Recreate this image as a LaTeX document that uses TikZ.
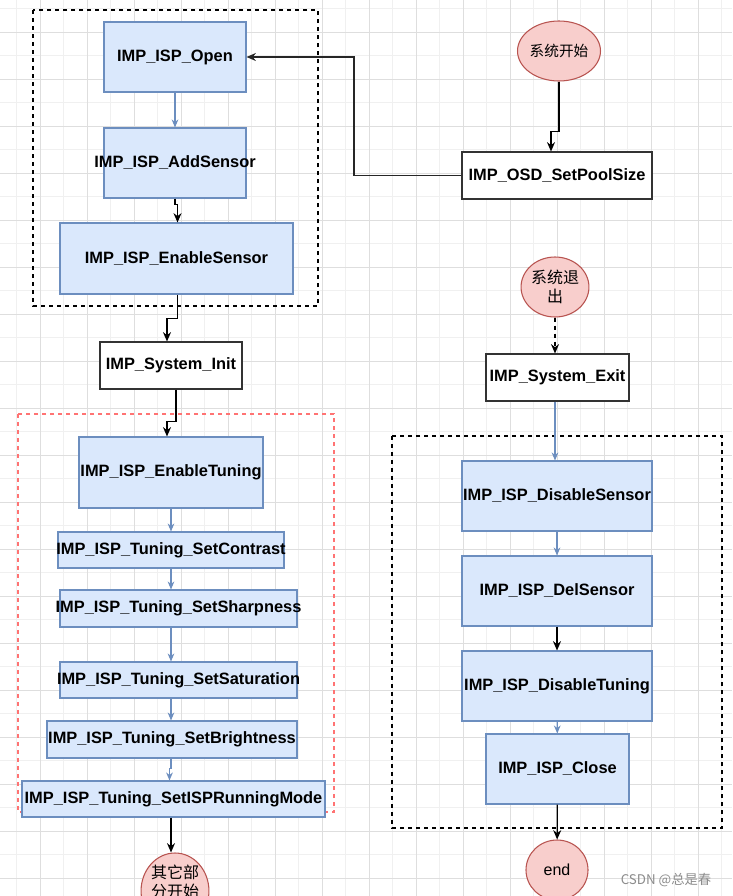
\documentclass[tikz,border=0pt]{standalone}
\usepackage{fontspec}
\setmainfont{Liberation Sans}
\newfontfamily\cjk{Noto Sans CJK SC}
\usetikzlibrary{arrows.meta,shapes.geometric}
\definecolor{bfill}{HTML}{DAE8FC}
\definecolor{bdraw}{HTML}{6C8EBF}
\definecolor{rfill}{HTML}{F8CECC}
\definecolor{rdraw}{HTML}{B85450}
\begin{document}
\begin{tikzpicture}[x=0.75pt,y=-0.75pt,
  blue/.style={draw=bdraw,fill=bfill,line width=0.8pt,font=\bfseries\fontsize{12.3}{14}\selectfont},
  plain/.style={draw=black!80,fill=white,line width=0.8pt,font=\bfseries\fontsize{12.3}{14}\selectfont},
  term/.style={ellipse,draw=rdraw,fill=rfill,line width=0.8pt,font=\cjk\fontsize{12}{14}\selectfont,align=center,inner sep=0pt},
  ka/.style={-{Stealth[length=7pt,width=6pt]},line width=0.9pt,black},
  ba/.style={-{Stealth[length=6pt,width=5pt]},line width=0.8pt,bdraw}]
\useasboundingbox (0,0) rectangle (732,896);
\fill[white] (0,0) rectangle (732,896);
% grid
\foreach \x in {16.5,40,...,732} \draw[black!6,line width=0.4pt] (\x,0) -- (\x,896);
\foreach \y in {8.5,32,...,896} \draw[black!6,line width=0.4pt] (0,\y) -- (732,\y);
\foreach \x in {40,87,...,732} \draw[black!13,line width=0.5pt] (\x,0) -- (\x,896);
\foreach \y in {32,79,...,896} \draw[black!13,line width=0.5pt] (0,\y) -- (732,\y);
% group boxes
\draw[black,dashed,line width=0.8pt] (33,10) rectangle (318,306);
\draw[red!55,dashed,line width=0.8pt] (18,414) rectangle (334,812);
\draw[black,dashed,line width=0.8pt] (392,436) rectangle (722,828);
% nodes (corners as px)
\newcommand\bx[7]{\node[#1,minimum width={(#4-#3)*0.75pt},minimum height={(#6-#5)*0.75pt},inner sep=0pt] (#2) at ({(#3+#4)/2},{(#5+#6)/2}) {\makebox[0pt]{#7}};}
\bx{blue}{open}{104}{246}{22}{92}{IMP\_ISP\_Open}
\bx{blue}{add}{104}{246}{128}{198}{IMP\_ISP\_AddSensor}
\bx{blue}{ens}{60}{293}{223}{294}{IMP\_ISP\_EnableSensor}
\bx{plain}{init}{100}{242}{342}{389}{IMP\_System\_Init}
\bx{blue}{ent}{79}{263}{437}{508}{IMP\_ISP\_EnableTuning}
\bx{blue}{con}{58}{284}{532}{568}{IMP\_ISP\_Tuning\_SetContrast}
\bx{blue}{sha}{60}{297}{590}{627}{IMP\_ISP\_Tuning\_SetSharpness}
\bx{blue}{sat}{60}{297}{662}{698}{IMP\_ISP\_Tuning\_SetSaturation}
\bx{blue}{bri}{47}{297}{721}{758}{IMP\_ISP\_Tuning\_SetBrightness}
\bx{blue}{run}{22}{325}{781}{817}{IMP\_ISP\_Tuning\_SetISPRunningMode}
\bx{plain}{osd}{462}{652}{152}{199}{IMP\_OSD\_SetPoolSize}
\bx{plain}{exit}{486}{629}{354}{401}{IMP\_System\_Exit}
\bx{blue}{dis}{462}{652}{461}{531}{IMP\_ISP\_DisableSensor}
\bx{blue}{del}{462}{652}{556}{626}{IMP\_ISP\_DelSensor}
\bx{blue}{dit}{462}{652}{651}{721}{IMP\_ISP\_DisableTuning}
\bx{blue}{clo}{486}{629}{734}{804}{IMP\_ISP\_Close}
\node[term,minimum width=70*0.75pt,minimum height=60*0.75pt,font=\cjk\fontsize{11}{13}\selectfont] (start) at (559,51) {系统开始};
\node[term,minimum width=66*0.75pt,minimum height=60*0.75pt] (quit) at (555,287) {系统退\\出};
\node[term,minimum width=62*0.75pt,minimum height=60*0.75pt,font=\fontsize{12}{14}\selectfont] (end) at (557,870) {end};
\node[term,minimum width=66*0.75pt,minimum height=76*0.75pt] (other) at (175,891) {其它部\\分开始\\运行};
% connectors
\draw[ba] (open) -- (add);
\draw[ka] (add.south) -- ++(0,6) -| ([xshift=0.75pt]ens.north);
\draw[ka] ([xshift=0.75pt]ens.south) -- ++(0,24) -| ([xshift=-3pt]init.north);
\draw[ka] ([xshift=3.75pt]init.south) -- ++(0,32) -| ([xshift=-3pt]ent.north);
\draw[ba] (ent.south -| con) -- (con.north);
\draw[ba] (con) -- (con |- sha.north);
\draw[ba] (sha.south -| con) -- (con |- sat.north);
\draw[ba] (sat.south -| con) -- (con |- bri.north);
\draw[ba] (bri.south -| con) -- ++(0,10) -| ([xshift=-3pt]run.north);
\draw[ka] (run.south -| con) -- (other.north -| con);
\draw[ka] (start.south) -- ++(0,50) -| ([xshift=-4.5pt]osd.north);
\draw[ka,black!85] (osd.west) -| (354,57) -- (open.east);
\draw[ka,dashed] (quit.south) -- (quit.south |- exit.north);
\draw[ba] (exit.south -| quit) -- (quit |- dis.north);
\draw[ba] (dis) -- (del);
\draw[ka] (del) -- (dit);
\draw[ba] (dit) -- (clo);
\draw[ka] (clo) -- (end);
\node[font=\cjk\fontsize{10}{12}\selectfont,text=black!45] (wm) at (666,880) {CSDN @总是春};
\end{tikzpicture}
\end{document}
